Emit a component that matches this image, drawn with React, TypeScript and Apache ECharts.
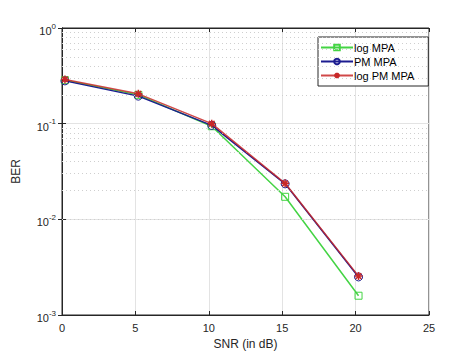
import React, { useEffect, useRef } from "react";
import * as echarts from "echarts";

const snr = [0.2, 5.2, 10.2, 15.2, 20.2];
const logMPA = [0.285, 0.2, 0.094, 0.0172, 0.00159];
const pmMPA = [0.28, 0.194, 0.096, 0.0235, 0.0025];
const logPmMPA = [0.29, 0.205, 0.1, 0.0238, 0.00255];
const seriesNames = ["log MPA", "PM MPA", "log PM MPA"];
const decades = [0.001, 0.01, 0.1];
const multiples = [2, 3, 4, 5, 6, 7, 8, 9];
const minorLines = decades.flatMap((d) => multiples.map((m) => +(d * m).toPrecision(3)));

const expOf = (v: number) => Math.round(Math.log10(v));

export default function App() {
  const ref = useRef<HTMLDivElement>(null);
  useEffect(() => {
    document.body.style.margin = "0";
    document.body.style.overflow = "hidden";
    const chart = echarts.init(ref.current!, null, { renderer: "svg" });
    const font = "Arial, 'Liberation Sans', sans-serif";
    const asterisk =
      "path://M5 0 L5 10 M0 5 L10 5 M1.5 1.5 L8.5 8.5 M8.5 1.5 L1.5 8.5";
    const toPairs = (arr: number[]) => arr.map((v, i) => [snr[i], v]);
    chart.setOption({
      animation: false,
      backgroundColor: "#ffffff",
      textStyle: { fontFamily: font },
      grid: {
        left: 62,
        right: 45,
        top: 28,
        bottom: 39,
        show: true,
        borderColor: "#262626",
        borderWidth: 1,
        backgroundColor: "#ffffff",
      },
      legend: {
        left: 318,
        top: 37,
        orient: "vertical",
        itemWidth: 32,
        itemHeight: 7,
        itemGap: 3,
        padding: [5, 14, 5, 2],
        borderColor: "#262626",
        borderWidth: 1,
        backgroundColor: "#ffffff",
        textStyle: { fontSize: 11, color: "#000", fontFamily: font, padding: [0, 0, 0, -4] },
        data: seriesNames,
      },
      xAxis: [
        {
          type: "value",
          min: 0,
          max: 25,
          interval: 5,
          name: "SNR (in dB)",
          nameLocation: "middle",
          nameGap: 23,
          nameTextStyle: { fontSize: 12, color: "#262626", fontFamily: font },
          axisLine: { show: true, lineStyle: { color: "#262626" } },
          axisTick: { show: true, inside: true, length: 4, lineStyle: { color: "#262626" } },
          axisLabel: { fontSize: 11, color: "#262626", margin: 7, fontFamily: font },
          splitLine: { show: true, lineStyle: { color: "#e3e3e3", width: 1 } },
        },
        {
          type: "value",
          position: "top",
          min: 0,
          max: 25,
          interval: 5,
          axisLine: { show: true, lineStyle: { color: "#262626" } },
          axisTick: { show: true, inside: true, length: 4, lineStyle: { color: "#262626" } },
          axisLabel: { show: false },
          splitLine: { show: false },
        },
      ],
      yAxis: [
        {
          type: "log",
          logBase: 10,
          min: 0.001,
          max: 1,
          name: "BER",
          nameLocation: "middle",
          nameGap: 40,
          nameTextStyle: { fontSize: 12, color: "#262626", fontFamily: font },
          axisLine: { show: true, lineStyle: { color: "#262626" } },
          axisTick: { show: true, inside: true, length: 4, lineStyle: { color: "#262626" } },
          axisLabel: {
            margin: 6,
            formatter: (v: number) => `{b|10}{s|${expOf(v)}}`,
            rich: {
              b: { fontSize: 11, color: "#262626", fontFamily: font, padding: [6, 0, 0, 0] },
              s: { fontSize: 8, color: "#262626", fontFamily: font, padding: [0, 0, 4, 0] },
            },
          },
          splitLine: { show: true, lineStyle: { color: "#e3e3e3", width: 1 } },
        },
        {
          type: "log",
          logBase: 10,
          min: 0.001,
          max: 1,
          position: "right",
          axisLine: { show: true, lineStyle: { color: "#262626" } },
          axisTick: { show: true, inside: true, length: 4, lineStyle: { color: "#262626" } },
          axisLabel: { show: false },
          splitLine: { show: false },
        },
      ],
      series: [
        {
          name: "minor",
          type: "line",
          data: [],
          silent: true,
          z: 1,
          markLine: {
            silent: true,
            symbol: "none",
            label: { show: false },
            lineStyle: { type: [1, 3], color: "#cfcfcf", width: 1 },
            data: minorLines.map((v) => ({ yAxis: v })),
          },
        },
        {
          name: seriesNames[0],
          type: "line",
          data: toPairs(logMPA),
          symbol: "rect",
          symbolSize: 7,
          showAllSymbol: true,
          color: "#44d444",
          lineStyle: { color: "#44d444", width: 1.5 },
          itemStyle: { color: "rgba(255,255,255,0)", borderColor: "#44d444", borderWidth: 1 },
          z: 3,
        },
        {
          name: seriesNames[1],
          type: "line",
          data: toPairs(pmMPA),
          symbol: "circle",
          symbolSize: 8,
          color: "#1c1c90",
          lineStyle: { color: "#1c1c90", width: 1.5 },
          itemStyle: { color: "rgba(255,255,255,0)", borderColor: "#1c1c90", borderWidth: 1 },
          z: 4,
        },
        {
          name: seriesNames[2],
          type: "line",
          data: toPairs(logPmMPA),
          symbol: asterisk,
          symbolSize: 8,
          color: "#c82828",
          lineStyle: { color: "#c82828", width: 1.5, opacity: 0.85 },
          itemStyle: { color: "#c82828", borderColor: "#c82828", borderWidth: 1.5 },
          z: 5,
        },
      ],
    });
    return () => chart.dispose();
  }, []);
  return <div ref={ref} style={{ width: 474, height: 355 }} />;
}
